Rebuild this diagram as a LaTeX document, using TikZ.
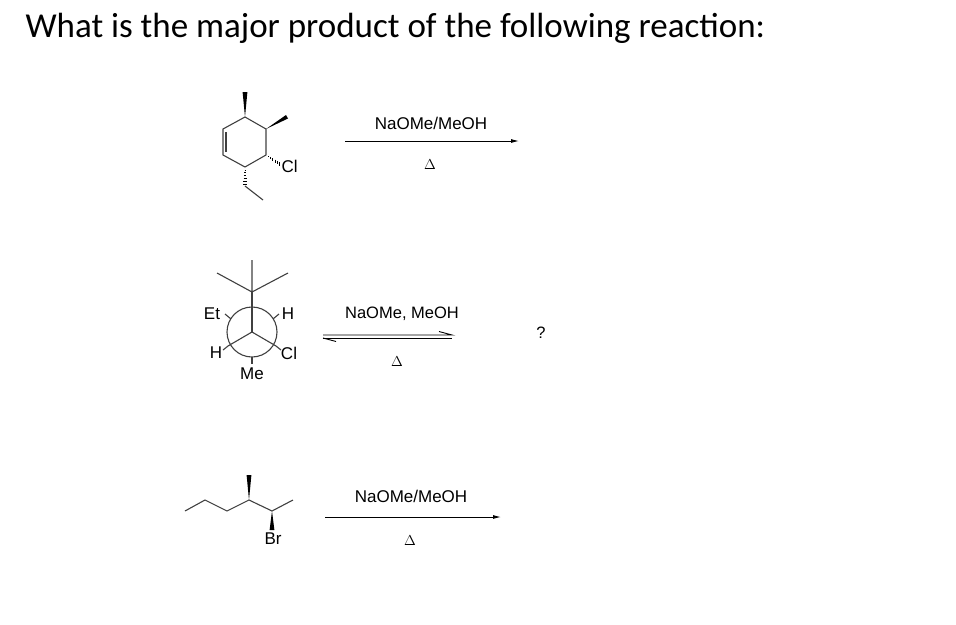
\documentclass[tikz,border=0pt]{standalone}
\usepackage{fontspec}
\setmainfont{Liberation Sans}
\newfontfamily\titlefont{Carlito}
\usetikzlibrary{calc,arrows.meta}
\begin{document}
\begin{tikzpicture}[x=1pt,y=-1pt,line width=1.1pt,
  bnd/.style={draw=black!75},
  lbl/.style={inner sep=0pt,font=\fontsize{17}{17}\selectfont},
  cond/.style={inner sep=0pt,font=\fontsize{16.5}{16.5}\selectfont},
  condb/.style={inner sep=0pt,font=\fontsize{17}{17}\selectfont},
  dlt/.style={inner sep=0pt,font=\fontsize{15}{15}\selectfont}]
\useasboundingbox (0,0) rectangle (956,624);
\node[anchor=west,inner sep=0pt,font=\titlefont\fontsize{35}{35}\selectfont] (title) at (25,28) {What is the major product of the following reaction:};
% molecule 1
\coordinate (a1) at (245,117); \coordinate (a2) at (266,129); \coordinate (a3) at (266,155);
\coordinate (a4) at (245,167); \coordinate (a5) at (223,155); \coordinate (a6) at (223,129);
\draw[bnd] (a1)--(a2)--(a3)--(a4)--(a5)--(a6)--cycle;
\draw[bnd] ($(a5)+(3,-3)$)--($(a6)+(3,3)$);
\fill (a1) -- ++(-2.4,-25) -- ++(4.8,0) -- cycle;
\fill (a2) -- ++(20,-14) -- ++(2,3.5) -- cycle;
\foreach \t in {0.15,0.3,...,1.0}{\draw[line width=0.7pt] ($(a3)!\t!(281,165)+(0,-2.5*\t)$)--($(a3)!\t!(281,165)+(0,2.5*\t)$);}
\node[lbl,anchor=west] (cl1) at (281,166) {Cl};
\foreach \t in {0.15,0.3,...,1.0}{\draw[line width=0.7pt] ($(a4)!\t!(245,186)+(-2.5*\t,0)$)--($(a4)!\t!(245,186)+(2.5*\t,0)$);}
\draw[bnd] (245,186)--(263,200);
% Newman
\coordinate (nc) at (252,332);
\draw[bnd] (nc) circle (25);
\draw[bnd] (nc)--(252,292);
\draw[bnd] (252,292)--(217,273) (252,292)--(288,273) (252,292)--(252,260);
\draw[bnd] (nc)--(228,346)--(223,350);
\draw[bnd] (nc)--(276,346)--(281,350);
\node[lbl] (h1) at (216,353) {H};
\node[lbl] (cl2) at (289,353) {Cl};
\draw[bnd] (231,319)--(225,314);
\node[lbl] (et) at (212,314) {Et};
\draw[bnd] (273,319)--(279,314);
\node[lbl] (h2) at (288,314) {H};
\draw[bnd] (252,357)--(252,364);
\node[lbl] (me) at (252,374) {Me};
% molecule 3
\draw[bnd] (185,511)--(205,500)--(227,511)--(249,500)--(272,511)--(293,500);
\fill (249,500) -- ++(-2.4,-25) -- ++(4.8,0) -- cycle;
\fill (272,511) -- ++(-2.4,19) -- ++(4.8,0) -- cycle;
\node[lbl] (br) at (273,539) {Br};
% arrows
\coordinate (r1s) at (345,141); \coordinate (r1e) at (519,141);
\draw[line width=0.9pt,-{Latex[length=8pt,width=4pt]}] (r1s)--(r1e);
\node[condb] (c1) at (431,123) {NaOMe/MeOH};
\node[dlt] (d1) at (430,165) {$\Delta$};
\coordinate (r2s) at (323,335); \coordinate (r2e) at (452,335);
\draw[line width=0.9pt] (r2s)--(r2e) -- ++(-13,-3.5);
\draw[line width=0.9pt] ($(r2s)+(0,3)$)--($(r2e)+(0,3)$);
\draw[line width=0.9pt] ($(r2s)+(0,3)$)-- ++(13,3.5);
\node[cond] (c2) at (402,314) {NaOMe, MeOH};
\node[dlt] (d2) at (397,362) {$\Delta$};
\node[cond] (q) at (541,333) {?};
\coordinate (r3s) at (325,517); \coordinate (r3e) at (501,517);
\draw[line width=0.9pt,-{Latex[length=8pt,width=4pt]}] (r3s)--(r3e);
\node[condb] (c3) at (411,496) {NaOMe/MeOH};
\node[dlt] (d3) at (410,541) {$\Delta$};
\end{tikzpicture}
\end{document}
